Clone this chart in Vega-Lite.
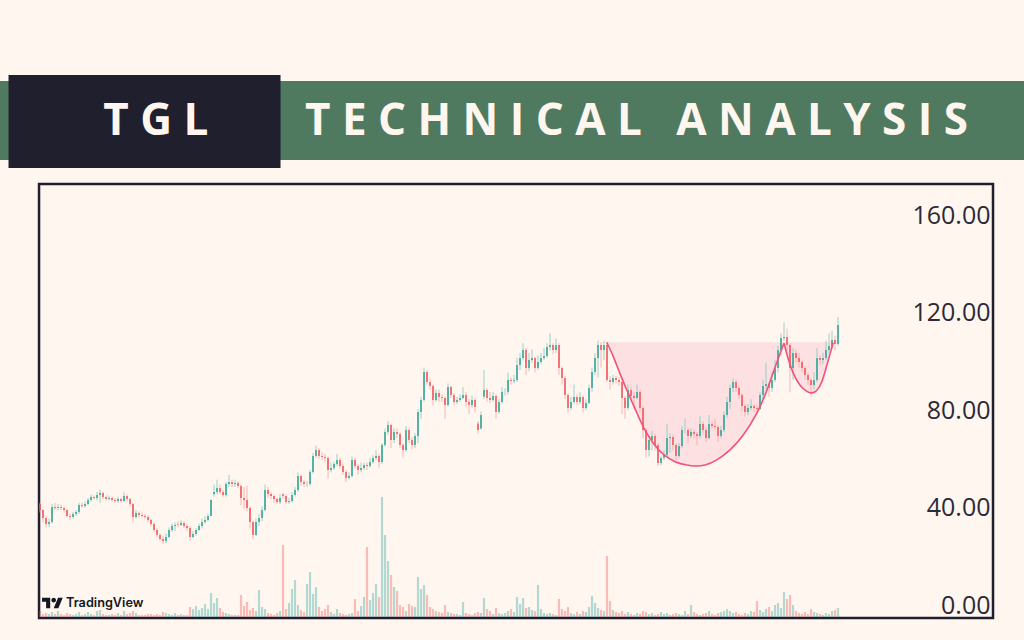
{
  "$schema": "https://vega.github.io/schema/vega-lite/v6.json",
  "width": 1024,
  "height": 640,
  "autosize": {"type": "fit", "contains": "padding"},
  "padding": 0,
  "background": "#fff6ef",
  "view": {"stroke": null},
  "config": {"font": "Open Sans"},
  "datasets": {
    "panels": [
      {"name": "band", "t0": -13.34, "t1": 328, "p0": 214.56, "p1": 182.15},
      {"name": "box", "t0": -10.5, "t1": 80.17, "p0": 217.03, "p1": 178.87}
    ],
    "headings": [
      {"text": "T G L", "t": 38.6, "p": 197.9},
      {"text": "T E C H N I C A L\u00a0\u00a0\u00a0A N A L Y S I S", "t": 198.83, "p": 197.9}
    ],
    "cup": [
      {"part": "cup", "t": 188.9, "p": 107.4, "top": 107.4},
      {"part": "cup", "t": 191.1, "p": 101.5, "top": 107.4},
      {"part": "cup", "t": 193.3, "p": 94.6, "top": 107.4},
      {"part": "cup", "t": 195.6, "p": 87.8, "top": 107.4},
      {"part": "cup", "t": 197.8, "p": 81.6, "top": 107.4},
      {"part": "cup", "t": 200, "p": 75.5, "top": 107.4},
      {"part": "cup", "t": 202.2, "p": 70.2, "top": 107.4},
      {"part": "cup", "t": 205, "p": 65, "top": 107.4},
      {"part": "cup", "t": 207.8, "p": 61.4, "top": 107.4},
      {"part": "cup", "t": 211.7, "p": 58.4, "top": 107.4},
      {"part": "cup", "t": 215.6, "p": 57, "top": 107.4},
      {"part": "cup", "t": 218.3, "p": 56.6, "top": 107.4},
      {"part": "cup", "t": 221.7, "p": 57, "top": 107.4},
      {"part": "cup", "t": 225.6, "p": 59.1, "top": 107.4},
      {"part": "cup", "t": 230, "p": 63.2, "top": 107.4},
      {"part": "cup", "t": 234.4, "p": 69.3, "top": 107.4},
      {"part": "cup", "t": 238.9, "p": 78.2, "top": 107.4},
      {"part": "cup", "t": 242.2, "p": 87.4, "top": 107.4},
      {"part": "cup", "t": 245, "p": 97, "top": 107.4},
      {"part": "cup", "t": 248, "p": 107, "top": 107.4},
      {"part": "handle", "t": 248, "p": 107, "top": 107.4},
      {"part": "handle", "t": 249.4, "p": 100.6, "top": 107.4},
      {"part": "handle", "t": 251.1, "p": 94.6, "top": 107.4},
      {"part": "handle", "t": 253.3, "p": 89.8, "top": 107.4},
      {"part": "handle", "t": 255.6, "p": 87.2, "top": 107.4},
      {"part": "handle", "t": 257.2, "p": 86.6, "top": 107.4},
      {"part": "handle", "t": 258.9, "p": 87.6, "top": 107.4},
      {"part": "handle", "t": 260.6, "p": 91.2, "top": 107.4},
      {"part": "handle", "t": 262.2, "p": 97.6, "top": 107.4},
      {"part": "handle", "t": 264.4, "p": 107.2, "top": 107.4}
    ],
    "candles": [
      {"t":0,"o":41,"h":41.5,"l":37.5,"c":38.6,"v":6},
      {"t":1,"o":38.6,"h":39,"l":33.5,"c":35.3,"v":3},
      {"t":2,"o":35.3,"h":36,"l":31.5,"c":32.8,"v":4},
      {"t":3,"o":32.8,"h":35,"l":31.5,"c":33.6,"v":3},
      {"t":4,"o":33.6,"h":41,"l":33,"c":39.8,"v":5},
      {"t":5,"o":39.8,"h":41.5,"l":38.5,"c":39.4,"v":3},
      {"t":6,"o":39.4,"h":41,"l":38.5,"c":39.8,"v":6},
      {"t":7,"o":39.8,"h":40.8,"l":38.5,"c":39.4,"v":3},
      {"t":8,"o":39.4,"h":40,"l":37.5,"c":38.6,"v":2},
      {"t":9,"o":38.6,"h":39,"l":35.5,"c":36.1,"v":4},
      {"t":10,"o":36.1,"h":37,"l":34.5,"c":35.7,"v":3},
      {"t":11,"o":35.7,"h":37.8,"l":35,"c":36.9,"v":2},
      {"t":12,"o":36.9,"h":38.5,"l":36,"c":37.7,"v":3},
      {"t":13,"o":37.7,"h":41.5,"l":37,"c":40.6,"v":5},
      {"t":14,"o":40.6,"h":41.5,"l":39.5,"c":40.2,"v":2},
      {"t":15,"o":40.2,"h":42,"l":39.5,"c":41,"v":3},
      {"t":16,"o":41,"h":43.5,"l":40.5,"c":42.7,"v":5},
      {"t":17,"o":42.7,"h":44.8,"l":42,"c":43.9,"v":3},
      {"t":18,"o":43.9,"h":44.5,"l":42.8,"c":43.5,"v":2},
      {"t":19,"o":43.5,"h":46,"l":42.5,"c":44.7,"v":6},
      {"t":20,"o":44.7,"h":47,"l":41.5,"c":45.5,"v":7},
      {"t":21,"o":45.5,"h":46,"l":43,"c":43.9,"v":3},
      {"t":22,"o":43.9,"h":44.5,"l":42.5,"c":43.1,"v":2},
      {"t":23,"o":43.1,"h":44.5,"l":42.5,"c":43.5,"v":2},
      {"t":24,"o":43.5,"h":44,"l":42,"c":42.7,"v":3},
      {"t":25,"o":42.7,"h":43.5,"l":41.5,"c":42.3,"v":2},
      {"t":26,"o":42.3,"h":44,"l":41.5,"c":43.1,"v":4},
      {"t":27,"o":43.1,"h":43.5,"l":41.5,"c":42.3,"v":2},
      {"t":28,"o":42.3,"h":46,"l":42,"c":44.3,"v":6},
      {"t":29,"o":44.3,"h":45,"l":42,"c":43.1,"v":3},
      {"t":30,"o":43.1,"h":43.5,"l":40,"c":41,"v":4},
      {"t":31,"o":41,"h":41.5,"l":33.5,"c":35.7,"v":6},
      {"t":32,"o":35.7,"h":38.5,"l":35,"c":37.3,"v":4},
      {"t":33,"o":37.3,"h":38,"l":35.5,"c":36.5,"v":2},
      {"t":34,"o":36.5,"h":37.5,"l":35.5,"c":36.1,"v":2},
      {"t":35,"o":36.1,"h":37,"l":35,"c":35.7,"v":2},
      {"t":36,"o":35.7,"h":36.5,"l":33.5,"c":34.5,"v":3},
      {"t":37,"o":34.5,"h":35,"l":32,"c":32.8,"v":3},
      {"t":38,"o":32.8,"h":33.5,"l":29.5,"c":30.4,"v":2},
      {"t":39,"o":30.4,"h":31,"l":27.5,"c":28.3,"v":3},
      {"t":40,"o":28.3,"h":29,"l":26,"c":26.7,"v":2},
      {"t":41,"o":26.7,"h":28,"l":24.5,"c":25.8,"v":5},
      {"t":42,"o":25.8,"h":29,"l":25,"c":27.5,"v":4},
      {"t":43,"o":27.5,"h":31.5,"l":27,"c":30.4,"v":3},
      {"t":44,"o":30.4,"h":33,"l":29.5,"c":32,"v":2},
      {"t":45,"o":32,"h":33.5,"l":30,"c":32.4,"v":4},
      {"t":46,"o":32.6,"h":34,"l":31.5,"c":32.4,"v":2},
      {"t":47,"o":32.4,"h":34.5,"l":32,"c":33.2,"v":3},
      {"t":48,"o":33.2,"h":34,"l":31,"c":32,"v":2},
      {"t":49,"o":32,"h":33,"l":30,"c":31.2,"v":2},
      {"t":50,"o":31.2,"h":32,"l":26,"c":27.5,"v":10},
      {"t":51,"o":27.5,"h":30,"l":27,"c":28.7,"v":8},
      {"t":52,"o":28.7,"h":31,"l":28,"c":30.4,"v":11},
      {"t":53,"o":30.4,"h":33,"l":30,"c":32,"v":7},
      {"t":54,"o":32,"h":35,"l":31,"c":33.6,"v":9},
      {"t":55,"o":33.6,"h":36,"l":33,"c":34.5,"v":13},
      {"t":56,"o":34.5,"h":37,"l":34,"c":36.1,"v":8},
      {"t":57,"o":36.1,"h":43,"l":36,"c":42.7,"v":24},
      {"t":58,"o":45,"h":49,"l":44,"c":45.9,"v":14},
      {"t":59,"o":45.9,"h":51,"l":45,"c":47.6,"v":19},
      {"t":60,"o":47.6,"h":49,"l":45,"c":45.9,"v":9},
      {"t":61,"o":45.9,"h":47,"l":44,"c":44.7,"v":5},
      {"t":62,"o":44.7,"h":50,"l":44,"c":49.2,"v":4},
      {"t":63,"o":49.2,"h":53,"l":48,"c":50,"v":3},
      {"t":64,"o":50,"h":51,"l":48,"c":49.2,"v":2},
      {"t":65,"o":49.2,"h":51,"l":48,"c":49.6,"v":2},
      {"t":66,"o":49.6,"h":50.5,"l":47.5,"c":48.4,"v":2},
      {"t":67,"o":48.4,"h":49,"l":40.5,"c":43.5,"v":22},
      {"t":68,"o":43.5,"h":48,"l":39,"c":42.7,"v":11},
      {"t":69,"o":42.7,"h":48.5,"l":38,"c":39.4,"v":15},
      {"t":70,"o":39.4,"h":40,"l":31,"c":33.6,"v":7},
      {"t":71,"o":33.6,"h":34,"l":26.5,"c":28.3,"v":9},
      {"t":72,"o":28.3,"h":35,"l":28,"c":33.6,"v":6},
      {"t":73,"o":33.6,"h":37,"l":32,"c":35.3,"v":27},
      {"t":74,"o":35.3,"h":40,"l":34,"c":38.6,"v":10},
      {"t":75,"o":38.6,"h":49,"l":38,"c":46.8,"v":8},
      {"t":76,"o":46.8,"h":48,"l":43.5,"c":45.1,"v":4},
      {"t":77,"o":45.1,"h":46,"l":43,"c":44.3,"v":3},
      {"t":78,"o":44.3,"h":45,"l":41.5,"c":43.1,"v":2},
      {"t":79,"o":43.1,"h":43.5,"l":41,"c":41.8,"v":4},
      {"t":80,"o":41.8,"h":45,"l":41,"c":43.5,"v":6},
      {"t":81,"o":45,"h":45.5,"l":43,"c":44.3,"v":72},
      {"t":82,"o":44.3,"h":45,"l":41,"c":41.8,"v":8},
      {"t":83,"o":41.8,"h":43.5,"l":41,"c":42.3,"v":14},
      {"t":84,"o":42.3,"h":46,"l":41.5,"c":44.7,"v":28},
      {"t":85,"o":44.7,"h":48,"l":44,"c":46.8,"v":37},
      {"t":86,"o":46.8,"h":54,"l":46,"c":52.5,"v":12},
      {"t":87,"o":52.5,"h":53,"l":48.5,"c":50,"v":7},
      {"t":88,"o":50,"h":51,"l":48,"c":49.2,"v":5},
      {"t":89,"o":49.2,"h":50.5,"l":48,"c":49.2,"v":33},
      {"t":90,"o":49.2,"h":55,"l":48.5,"c":54.2,"v":45},
      {"t":91,"o":54.2,"h":62,"l":53.5,"c":60.7,"v":23},
      {"t":92,"o":60.7,"h":65,"l":60,"c":63.2,"v":30},
      {"t":93,"o":63.2,"h":64,"l":59.5,"c":60.7,"v":10},
      {"t":94,"o":60.7,"h":62,"l":59,"c":60.3,"v":6},
      {"t":95,"o":60.3,"h":61.5,"l":58.5,"c":59.9,"v":8},
      {"t":96,"o":59.9,"h":60.5,"l":51.5,"c":55,"v":12},
      {"t":97,"o":55,"h":58,"l":54,"c":55.8,"v":5},
      {"t":98,"o":55.8,"h":58.5,"l":55,"c":57.4,"v":3},
      {"t":99,"o":57.4,"h":61.5,"l":56.5,"c":59.1,"v":8},
      {"t":100,"o":59.1,"h":60,"l":55.5,"c":56.6,"v":4},
      {"t":101,"o":56.6,"h":57.5,"l":53,"c":54.2,"v":3},
      {"t":102,"o":54.2,"h":55,"l":50,"c":51.7,"v":2},
      {"t":103,"o":51.7,"h":54,"l":51,"c":52.5,"v":3},
      {"t":104,"o":52.5,"h":60.5,"l":52,"c":59.1,"v":4},
      {"t":105,"o":59.1,"h":60,"l":55.5,"c":56.6,"v":18},
      {"t":106,"o":56.6,"h":57.5,"l":53,"c":55,"v":6},
      {"t":107,"o":55,"h":58,"l":54,"c":55.8,"v":11},
      {"t":108,"o":55.8,"h":58,"l":55,"c":57,"v":20},
      {"t":109,"o":57,"h":58,"l":55,"c":56.6,"v":70},
      {"t":110,"o":56.6,"h":60,"l":56,"c":58.3,"v":17},
      {"t":111,"o":58.3,"h":61,"l":57.5,"c":59.9,"v":24},
      {"t":112,"o":59.9,"h":63,"l":59,"c":60.7,"v":33},
      {"t":113,"o":60.7,"h":61.5,"l":56,"c":58.3,"v":20},
      {"t":114,"o":58.3,"h":66,"l":57.5,"c":65.2,"v":120},
      {"t":115,"o":65.2,"h":72,"l":64.5,"c":70.6,"v":82},
      {"t":116,"o":70.6,"h":75,"l":69.5,"c":73.4,"v":56},
      {"t":117,"o":73.4,"h":74,"l":64,"c":67.3,"v":42},
      {"t":118,"o":67.3,"h":72,"l":66,"c":70.6,"v":30},
      {"t":119,"o":70.6,"h":72,"l":68,"c":69.7,"v":26},
      {"t":120,"o":69.7,"h":70.5,"l":64,"c":65.2,"v":12},
      {"t":121,"o":65.2,"h":66,"l":60,"c":63.2,"v":10},
      {"t":122,"o":63.2,"h":73,"l":62.5,"c":71.4,"v":6},
      {"t":123,"o":71.4,"h":72,"l":66,"c":67.3,"v":13},
      {"t":124,"o":67.3,"h":68.5,"l":63.5,"c":65.2,"v":11},
      {"t":125,"o":65.2,"h":70,"l":64,"c":68.9,"v":10},
      {"t":126,"o":68.9,"h":80,"l":66,"c":78.8,"v":40},
      {"t":127,"o":78.8,"h":85,"l":76,"c":83.7,"v":28},
      {"t":128,"o":83.7,"h":97,"l":83,"c":95.2,"v":32},
      {"t":129,"o":95.2,"h":96,"l":90,"c":91.1,"v":22},
      {"t":130,"o":91.1,"h":92.5,"l":88,"c":89.4,"v":10},
      {"t":131,"o":89.4,"h":90,"l":81.5,"c":83.7,"v":8},
      {"t":132,"o":83.7,"h":88,"l":83,"c":86.6,"v":6},
      {"t":133,"o":86.6,"h":88,"l":83,"c":84.9,"v":5},
      {"t":134,"o":84.9,"h":86,"l":83,"c":84.5,"v":4},
      {"t":135,"o":84.5,"h":85,"l":76,"c":81.6,"v":12},
      {"t":136,"o":81.6,"h":90.5,"l":81,"c":89,"v":5},
      {"t":137,"o":89,"h":89.5,"l":84.5,"c":85.7,"v":4},
      {"t":138,"o":85.7,"h":86.5,"l":81.5,"c":82.9,"v":3},
      {"t":139,"o":82.9,"h":85,"l":82,"c":83.7,"v":3},
      {"t":140,"o":83.7,"h":86,"l":83,"c":84.5,"v":2},
      {"t":141,"o":84.5,"h":89,"l":84,"c":85.7,"v":15},
      {"t":142,"o":85.7,"h":87,"l":81,"c":82.9,"v":4},
      {"t":143,"o":82.9,"h":84,"l":78,"c":81.6,"v":3},
      {"t":144,"o":81.6,"h":85.5,"l":80.5,"c":83.7,"v":2},
      {"t":145,"o":83.7,"h":84.5,"l":78.5,"c":80.8,"v":4},
      {"t":146,"o":74,"h":75,"l":70,"c":71.4,"v":5},
      {"t":147,"o":72,"h":79,"l":71.5,"c":77.5,"v":4},
      {"t":148,"o":85,"h":96,"l":84,"c":87.8,"v":19},
      {"t":149,"o":87.8,"h":88.5,"l":83,"c":84.5,"v":8},
      {"t":150,"o":84.5,"h":87,"l":82.5,"c":83.7,"v":6},
      {"t":151,"o":83.7,"h":87,"l":83,"c":85.3,"v":3},
      {"t":152,"o":85.3,"h":86,"l":76,"c":78.8,"v":9},
      {"t":153,"o":78.8,"h":84,"l":78,"c":82.9,"v":4},
      {"t":154,"o":82.9,"h":89,"l":82,"c":87,"v":3},
      {"t":155,"o":87,"h":88.5,"l":85.5,"c":87,"v":4},
      {"t":156,"o":87,"h":95,"l":86,"c":91.9,"v":6},
      {"t":157,"o":91.9,"h":93,"l":90,"c":91.5,"v":8},
      {"t":158,"o":91.5,"h":94,"l":90.5,"c":91.9,"v":5},
      {"t":159,"o":91.9,"h":101,"l":91,"c":98,"v":20},
      {"t":160,"o":98,"h":103,"l":96,"c":100.9,"v":13},
      {"t":161,"o":100.9,"h":107,"l":100,"c":104.2,"v":19},
      {"t":162,"o":104.2,"h":105,"l":94,"c":96.8,"v":9},
      {"t":163,"o":96.8,"h":103,"l":95.5,"c":100.1,"v":10},
      {"t":164,"o":100.1,"h":104.5,"l":99,"c":100.9,"v":7},
      {"t":165,"o":100.9,"h":101.5,"l":95,"c":96.8,"v":6},
      {"t":166,"o":96.8,"h":102,"l":96,"c":99.3,"v":32},
      {"t":167,"o":99.3,"h":103,"l":98.5,"c":100.9,"v":8},
      {"t":168,"o":100.9,"h":105,"l":100,"c":101.7,"v":4},
      {"t":169,"o":101.7,"h":107,"l":101,"c":105.4,"v":3},
      {"t":170,"o":105.4,"h":111,"l":104,"c":106.3,"v":4},
      {"t":171,"o":106.3,"h":107,"l":102.5,"c":104.2,"v":3},
      {"t":172,"o":104.2,"h":109,"l":103,"c":106.3,"v":2},
      {"t":173,"o":106.3,"h":107,"l":94,"c":96.8,"v":18},
      {"t":174,"o":96.8,"h":97.5,"l":90,"c":92.7,"v":8},
      {"t":175,"o":92.7,"h":93.5,"l":84,"c":85.7,"v":6},
      {"t":176,"o":85.7,"h":86.5,"l":78.5,"c":80.4,"v":10},
      {"t":177,"o":80.4,"h":85,"l":79.5,"c":82.9,"v":4},
      {"t":178,"o":82.9,"h":90,"l":82,"c":84.9,"v":3},
      {"t":179,"o":84.9,"h":86,"l":81.5,"c":82.9,"v":5},
      {"t":180,"o":82.9,"h":87,"l":82,"c":84.9,"v":3},
      {"t":181,"o":84.9,"h":85.5,"l":78.5,"c":80.4,"v":6},
      {"t":182,"o":80.4,"h":84,"l":79.5,"c":82.5,"v":5},
      {"t":183,"o":82.5,"h":90,"l":82,"c":88.6,"v":10},
      {"t":184,"o":88.6,"h":97,"l":87,"c":95.2,"v":21},
      {"t":185,"o":95.2,"h":103,"l":94,"c":100.9,"v":14},
      {"t":186,"o":100.9,"h":108,"l":93,"c":106.3,"v":9},
      {"t":187,"o":106.3,"h":107.5,"l":97,"c":104.2,"v":7},
      {"t":188,"o":104.2,"h":108,"l":100,"c":106.3,"v":6},
      {"t":189,"o":106.3,"h":107,"l":91,"c":91.9,"v":61},
      {"t":190,"o":91.9,"h":93.5,"l":88,"c":91.1,"v":16},
      {"t":191,"o":91.1,"h":94,"l":90,"c":92.7,"v":7},
      {"t":192,"o":92.7,"h":93.5,"l":90.5,"c":91.9,"v":5},
      {"t":193,"o":91.9,"h":93,"l":89.5,"c":91.1,"v":4},
      {"t":194,"o":91.1,"h":92,"l":78,"c":84.5,"v":6},
      {"t":195,"o":84.5,"h":85.5,"l":76,"c":80.4,"v":3},
      {"t":196,"o":80.4,"h":90,"l":79.5,"c":87.8,"v":5},
      {"t":197,"o":87.8,"h":89,"l":83,"c":85.3,"v":3},
      {"t":198,"o":85.3,"h":87,"l":80,"c":84.5,"v":2},
      {"t":199,"o":84.5,"h":90,"l":84,"c":87,"v":4},
      {"t":200,"o":87,"h":88,"l":78.5,"c":80.4,"v":3},
      {"t":201,"o":80.4,"h":81,"l":68,"c":71.4,"v":6},
      {"t":202,"o":71.4,"h":72,"l":60,"c":63.2,"v":5},
      {"t":203,"o":63.2,"h":69,"l":60.5,"c":67.3,"v":3},
      {"t":204,"o":67.3,"h":71,"l":63,"c":68.9,"v":4},
      {"t":205,"o":68.9,"h":70,"l":63,"c":65.2,"v":2},
      {"t":206,"o":65.2,"h":66,"l":56.5,"c":57.8,"v":3},
      {"t":207,"o":57.8,"h":61,"l":57,"c":59.9,"v":5},
      {"t":208,"o":59.9,"h":63,"l":59,"c":61.1,"v":3},
      {"t":209,"o":61.1,"h":74,"l":60.5,"c":68.1,"v":4},
      {"t":210,"o":68.1,"h":70,"l":62,"c":68.5,"v":2},
      {"t":211,"o":68.5,"h":69.5,"l":63,"c":65.2,"v":3},
      {"t":212,"o":65.2,"h":66,"l":59,"c":60.7,"v":4},
      {"t":213,"o":60.7,"h":66,"l":60,"c":64.8,"v":3},
      {"t":214,"o":64.8,"h":73,"l":64,"c":71.4,"v":2},
      {"t":215,"o":71.4,"h":76,"l":70,"c":71.4,"v":6},
      {"t":216,"o":71.4,"h":72.5,"l":66,"c":68.9,"v":3},
      {"t":217,"o":68.9,"h":72,"l":68,"c":70.6,"v":12},
      {"t":218,"o":70.6,"h":71.5,"l":68,"c":69.7,"v":5},
      {"t":219,"o":69.7,"h":70.5,"l":65,"c":68.9,"v":3},
      {"t":220,"o":68.9,"h":77,"l":68,"c":73.8,"v":2},
      {"t":221,"o":73.8,"h":75,"l":70,"c":71.4,"v":3},
      {"t":222,"o":71.4,"h":72.5,"l":66.5,"c":68.1,"v":4},
      {"t":223,"o":68.1,"h":77.5,"l":67.5,"c":73.8,"v":6},
      {"t":224,"o":73.8,"h":75,"l":72,"c":73,"v":3},
      {"t":225,"o":73,"h":76,"l":71.5,"c":72.6,"v":2},
      {"t":226,"o":72.6,"h":73.5,"l":66.5,"c":68.9,"v":4},
      {"t":227,"o":68.9,"h":73,"l":68,"c":71.4,"v":5},
      {"t":228,"o":71.4,"h":79,"l":70.5,"c":77.5,"v":6},
      {"t":229,"o":77.5,"h":85,"l":76.5,"c":82.9,"v":8},
      {"t":230,"o":82.9,"h":90,"l":80,"c":88.6,"v":6},
      {"t":231,"o":88.6,"h":92.5,"l":87,"c":91.1,"v":4},
      {"t":232,"o":91.1,"h":92,"l":87,"c":88.6,"v":5},
      {"t":233,"o":88.6,"h":89.5,"l":84,"c":85.7,"v":3},
      {"t":234,"o":85.7,"h":86.5,"l":79,"c":81.2,"v":2},
      {"t":235,"o":81.2,"h":82,"l":77,"c":78.8,"v":4},
      {"t":236,"o":78.8,"h":82,"l":77.5,"c":80.4,"v":3},
      {"t":237,"o":80.4,"h":84,"l":79.5,"c":81.2,"v":6},
      {"t":238,"o":81.2,"h":82,"l":79,"c":80.4,"v":5},
      {"t":239,"o":80.4,"h":81.5,"l":78.5,"c":80,"v":16},
      {"t":240,"o":80,"h":87,"l":79.5,"c":85.7,"v":7},
      {"t":241,"o":85.7,"h":92,"l":84,"c":89.4,"v":5},
      {"t":242,"o":89.4,"h":99,"l":88,"c":90.3,"v":8},
      {"t":243,"o":90.3,"h":91,"l":85,"c":88.6,"v":10},
      {"t":244,"o":88.6,"h":95,"l":87,"c":91.9,"v":6},
      {"t":245,"o":91.9,"h":100,"l":91,"c":96.8,"v":12},
      {"t":246,"o":96.8,"h":106,"l":95,"c":104.2,"v":14},
      {"t":247,"o":104.2,"h":111,"l":102,"c":109.1,"v":9},
      {"t":248,"o":109.1,"h":115.5,"l":108,"c":109.5,"v":25},
      {"t":249,"o":109.5,"h":113,"l":104,"c":106.3,"v":18},
      {"t":250,"o":106.3,"h":107,"l":87,"c":96.8,"v":22},
      {"t":251,"o":96.8,"h":105,"l":92,"c":103,"v":12},
      {"t":252,"o":103,"h":104.5,"l":99,"c":100.9,"v":6},
      {"t":253,"o":100.9,"h":103,"l":97,"c":99.3,"v":4},
      {"t":254,"o":99.3,"h":100,"l":95,"c":96.8,"v":3},
      {"t":255,"o":96.8,"h":97.5,"l":92,"c":93.9,"v":5},
      {"t":256,"o":93.9,"h":95,"l":90,"c":91.9,"v":3},
      {"t":257,"o":91.9,"h":92.5,"l":85,"c":89.8,"v":8},
      {"t":258,"o":89.8,"h":95,"l":88,"c":91.9,"v":5},
      {"t":259,"o":91.9,"h":105,"l":91,"c":100.9,"v":4},
      {"t":260,"o":100.9,"h":102,"l":98,"c":100.1,"v":3},
      {"t":261,"o":100.1,"h":103,"l":98.5,"c":100.9,"v":2},
      {"t":262,"o":100.9,"h":108,"l":100,"c":104.2,"v":4},
      {"t":263,"o":104.2,"h":111,"l":103,"c":105.8,"v":3},
      {"t":264,"o":105.8,"h":112,"l":104.5,"c":108.3,"v":6},
      {"t":265,"o":108.3,"h":110,"l":104,"c":106.7,"v":7},
      {"t":266,"o":106.7,"h":117.7,"l":106,"c":114.5,"v":9}
    ]
  },
  "encoding": {
    "x": {"type": "quantitative", "axis": null, "scale": {"domain": [-13.34, 328], "nice": false, "zero": false}}
  },
  "resolve": {"scale": {"y": "independent"}},
  "layer": [
    {
      "encoding": {
        "y": {"type": "quantitative", "scale": {"domain": [-14.77, 247.79], "nice": false, "zero": false}}
      },
      "layer": [
        {
          "data": {"name": "panels"},
          "mark": {"type": "rect"},
          "encoding": {
            "x": {"field": "t0", "type": "quantitative", "axis": null, "scale": {"domain": [-13.34, 328], "nice": false, "zero": false}},
            "x2": {"field": "t1"},
            "y": {
              "field": "p0",
              "type": "quantitative",
              "scale": {"domain": [-14.77, 247.79], "nice": false, "zero": false},
              "title": null,
              "axis": {
                "orient": "right",
                "values": [0, 40, 80, 120, 160],
                "format": ".2f",
                "domain": false,
                "ticks": false,
                "grid": false,
                "labelPadding": -34,
                "labelAlign": "right",
                "labelOffset": 1.5,
                "labelFont": "Open Sans",
                "labelFontSize": 25,
                "labelColor": "#2a2a38"
              }
            },
            "y2": {"field": "p1"},
            "color": {
              "field": "name",
              "type": "nominal",
              "legend": null,
              "scale": {"domain": ["band", "box"], "range": ["#4f7a60", "#1f1f2e"]}
            }
          }
        },
        {
          "data": {"values": [{"t0": -0.33, "t1": 317.67, "p0": 172.3, "p1": -5.74}]},
          "mark": {"type": "rect", "fill": null, "stroke": "#1f1f2e", "strokeWidth": 2.5},
          "encoding": {
            "x": {"field": "t0", "type": "quantitative"},
            "x2": {"field": "t1"},
            "y": {"field": "p0", "type": "quantitative"},
            "y2": {"field": "p1"}
          }
        },
        {
          "data": {"name": "headings"},
          "mark": {"type": "text", "font": "Open Sans", "fontWeight": "bold", "fontSize": 44, "color": "#fff6ef", "align": "center", "baseline": "middle"},
          "encoding": {
            "x": {"field": "t", "type": "quantitative"},
            "y": {"field": "p", "type": "quantitative"},
            "text": {"field": "text"}
          }
        },
        {
          "data": {"name": "cup"},
          "mark": {"type": "area", "interpolate": "natural", "color": "#fde0e2"},
          "encoding": {
            "x": {"field": "t", "type": "quantitative"},
            "y": {"field": "p", "type": "quantitative"},
            "y2": {"field": "top"},
            "detail": {"field": "part"}
          }
        },
        {
          "data": {"name": "candles"},
          "mark": {"type": "rule", "strokeWidth": 0.8},
          "encoding": {
            "x": {"field": "t", "type": "quantitative"},
            "y": {"field": "l", "type": "quantitative"},
            "y2": {"field": "h"},
            "color": {"condition": {"test": "datum.c >= datum.o", "value": "#7fc9bf"}, "value": "#f7a3a3"}
          }
        },
        {
          "data": {"name": "candles"},
          "mark": {"type": "rule", "strokeWidth": 1.4},
          "encoding": {
            "x": {"field": "t", "type": "quantitative"},
            "y": {"field": "o", "type": "quantitative"},
            "y2": {"field": "c"},
            "color": {"condition": {"test": "datum.c >= datum.o", "value": "#1f9e8f"}, "value": "#ef4a50"}
          }
        },
        {
          "data": {"name": "cup"},
          "mark": {"type": "line", "interpolate": "natural", "color": "#f0527a", "strokeWidth": 1.6},
          "encoding": {
            "x": {"field": "t", "type": "quantitative"},
            "y": {"field": "p", "type": "quantitative"},
            "detail": {"field": "part"}
          }
        },
        {
          "data": {"values": [{"t": 4.17, "p": 0.41}]},
          "mark": {
            "type": "point",
            "filled": true,
            "color": "#131722",
            "opacity": 1,
            "size": 441,
            "shape": "M-0.222 0.5H-0.611V-0.111H-1V-0.5H-0.222ZM0.556 0.5H0.111L0.528 -0.5H0.972ZM-0.111 -0.278a0.222 0.222 0 1 0 0.444 0a0.222 0.222 0 1 0 -0.444 0Z"
          },
          "encoding": {
            "x": {"field": "t", "type": "quantitative"},
            "y": {"field": "p", "type": "quantitative"}
          }
        },
        {
          "data": {"values": [{"text": "TradingView", "t": 8.67, "p": 0.41}]},
          "mark": {"type": "text", "font": "Inter", "fontWeight": 600, "fontSize": 12.7, "color": "#131722", "align": "left", "baseline": "middle"},
          "encoding": {
            "x": {"field": "t", "type": "quantitative"},
            "y": {"field": "p", "type": "quantitative"},
            "text": {"field": "text"}
          }
        }
      ]
    },
    {
      "data": {"name": "candles"},
      "mark": {"type": "rule", "strokeWidth": 2.2, "opacity": 0.36},
      "encoding": {
        "x": {"field": "t", "type": "quantitative"},
        "y": {"field": "v", "type": "quantitative", "axis": null, "scale": {"domain": [-23, 617], "nice": false, "zero": false}},
        "y2": {"datum": 0},
        "color": {"condition": {"test": "datum.c >= datum.o", "value": "#26a69a"}, "value": "#ef5350"}
      }
    }
  ]
}
